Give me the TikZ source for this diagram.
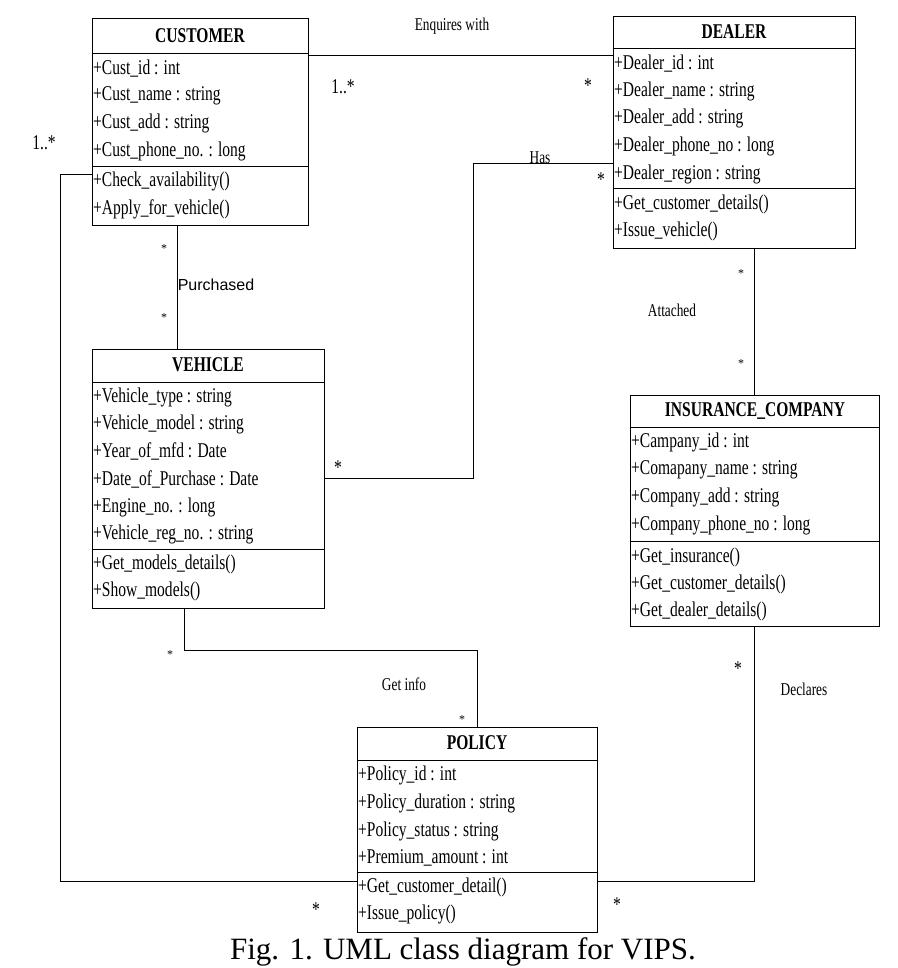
\documentclass[tikz,border=0pt]{standalone}
\usepackage{fontspec}
\setmainfont{Liberation Serif}
\newfontfamily\cond[FakeStretch=0.74]{Liberation Serif}
\newfontfamily\sansf{Liberation Sans}
\begin{document}
\begin{tikzpicture}[x=1pt,y=-1pt,
  line/.style={line width=0.9pt},
  txt/.style={font=\cond\fontsize{21}{22}\selectfont,anchor=west,inner sep=0pt},
  hdr/.style={font=\cond\bfseries\fontsize{21}{22}\selectfont,inner sep=0pt},
  lab/.style={font=\cond\fontsize{18}{19}\selectfont,inner sep=0pt},
  star/.style={font=\fontsize{12}{12}\selectfont,inner sep=0pt}]
\useasboundingbox[fill=white] (0,0) rectangle (897,968);
\newcommand{\clsbox}[7]{%
  \draw[line] (#2,#3) rectangle (#4,#5);
  \draw[line] (#2,#6) -- (#4,#6);
  \draw[line] (#2,#7) -- (#4,#7);
  \node[rectangle,minimum width={#4-#2},minimum height={#5-#3},anchor=north west,inner sep=0pt] (#1) at (#2,#3) {};}
% CUSTOMER
\clsbox{cust}{92}{18}{308}{225}{53}{166}
\node[hdr] (custh) at (200,36) {CUSTOMER};
\foreach \y/\t in {69/Cust\_id : int,96/Cust\_name : string,123/Cust\_add : string,151/Cust\_phone\_no. : long,181/Check\_availability(),209/Apply\_for\_vehicle()} \node[txt] at (93,\y) {+\t};
% DEALER
\clsbox{deal}{613}{16}{855}{248}{48}{188}
\node[hdr] (dealh) at (734,32) {DEALER};
\foreach \y/\t in {64/Dealer\_id : int,91/Dealer\_name : string,118/Dealer\_add : string,146/Dealer\_phone\_no : long,174/Dealer\_region : string,204/Get\_customer\_details(),231/Issue\_vehicle()} \node[txt] at (614,\y) {+\t};
% VEHICLE
\clsbox{veh}{92}{349}{324}{608}{382}{549}
\node[hdr] (vehh) at (208,365) {VEHICLE};
\foreach \y/\t in {397/Vehicle\_type : string,424/Vehicle\_model : string,451/Year\_of\_mfd : Date,479/Date\_of\_Purchase : Date,507/Engine\_no. : long,534/Vehicle\_reg\_no. : string,564/Get\_models\_details(),591/Show\_models()} \node[txt] at (93,\y) {+\t};
% INSURANCE
\clsbox{ins}{630}{395}{879}{626}{427}{541}
\node[hdr] (insh) at (755,411) {INSURANCE\_COMPANY};
\foreach \y/\t in {442/Campany\_id : int,470/Comapany\_name : string,497/Company\_add : string,525/Company\_phone\_no : long,557/Get\_insurance(),584/Get\_customer\_details(),611/Get\_dealer\_details()} \node[txt] at (631,\y) {+\t};
% POLICY
\clsbox{pol}{357}{727}{597}{932}{760}{872}
\node[hdr] (polh) at (477,743) {POLICY};
\foreach \y/\t in {775/Policy\_id : int,803/Policy\_duration : string,831/Policy\_status : string,858/Premium\_amount : int,887/Get\_customer\_detail(),914/Issue\_policy()} \node[txt] at (358,\y) {+\t};
% connectors
\coordinate (c1) at (308,55); \coordinate (d1) at (613,55);
\draw[line] (c1) -- (d1);
\node[lab] at (452,26) {Enquires with};
\node[lab,font=\cond\fontsize{21}{22}\selectfont] at (343,87) {1..*};
\node[lab,font=\cond\fontsize{21}{22}\selectfont] at (588,86) {*};
\coordinate (c2) at (177,225); \coordinate (v2) at (177,349);
\draw[line] (c2) -- (v2);
\node[star] at (164,249) {*}; \node[star] at (164,318) {*};
\node[font=\sansf\fontsize{16}{17}\selectfont,inner sep=0pt] at (216,285) {Purchased};
\coordinate (v3) at (324,478); \coordinate (d3) at (613,163);
\draw[line] (v3) -- (473,478) -- (473,163) -- (d3);
\node[lab] at (540,158) {Has};
\node[lab,font=\cond\fontsize{21}{22}\selectfont] at (338,468) {*}; \node[lab,font=\cond\fontsize{21}{22}\selectfont] at (601,180) {*};
\coordinate (d4) at (754,248); \coordinate (i4) at (754,395);
\draw[line] (d4) -- (i4);
\node[star] at (741,274) {*}; \node[star] at (741,364) {*};
\node[lab] at (672,310) {Attached};
\coordinate (v5) at (184,608); \coordinate (p5) at (477,727);
\draw[line] (v5) -- (184,650) -- (477,650) -- (p5);
\node[star] at (170,655) {*}; \node[star] at (462,720) {*};
\node[lab] at (404,684) {Get info};
\coordinate (c6) at (92,174); \coordinate (p6) at (357,881);
\draw[line] (c6) -- (60,174) -- (60,881) -- (p6);
\node[lab,font=\cond\fontsize{21}{22}\selectfont] at (44,143) {1..*};
\node[lab,font=\cond\fontsize{21}{22}\selectfont] at (316,910) {*};
\coordinate (i7) at (754,626); \coordinate (p7) at (597,881);
\draw[line] (i7) -- (754,881) -- (p7);
\node[lab,font=\cond\fontsize{21}{22}\selectfont] at (738,669) {*};
\node[lab,font=\cond\fontsize{21}{22}\selectfont] at (617,905) {*};
\node[lab] at (804,689) {Declares};
\node[font=\fontsize{31}{33}\selectfont,inner sep=0pt] (cap) at (463,952) {Fig. 1. UML class diagram for VIPS.};
\end{tikzpicture}
\end{document}
